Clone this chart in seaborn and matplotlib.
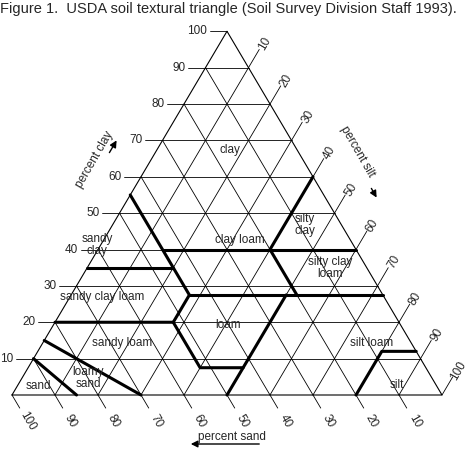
import numpy as np
import pandas as pd
import matplotlib
matplotlib.use("Agg")
import matplotlib.pyplot as plt
import seaborn as sns

sns.set_style("white")
plt.rcParams['font.family'] = ['Liberation Sans', 'DejaVu Sans']

H = np.sqrt(3) / 2
ticks = [10, 20, 30, 40, 50, 60, 70, 80, 90, 100]

# class boundaries as (sand, clay) polylines
boundaries = [
    [(85, 0), (90, 10)],
    [(70, 0), (85, 15)],
    [(80, 20), (52.5, 20), (52.5, 7.5), (42.5, 7.5)],
    [(50, 0), (22.5, 27.5)],
    [(65, 35), (45, 35)],
    [(45, 55), (45, 27.5), (52.5, 20)],
    [(45, 27.5), (0, 27.5)],
    [(45, 40), (0, 40)],
    [(20, 27.5), (20, 40), (0, 60)],
    [(20, 0), (8, 12), (0, 12)],
]

classes = ["clay", "silty\nclay", "sandy\nclay", "clay loam", "silty clay\nloam",
           "sandy clay loam", "loam", "sandy loam", "silt loam", "loamy\nsand", "sand", "silt"]
class_px = [(230, 150), (305, 225), (97, 245), (240, 240), (330, 268), (102, 297),
            (228, 325), (122, 343), (372, 343), (88, 378), (38, 386), (397, 385)]


def xy(sand, clay):
    return 100 - sand - clay / 2, clay * H


def px(p):
    return (p[0] - 12) / 4.3, (395 - p[1]) / 4.2


fig = plt.figure(figsize=(4.74, 4.54), dpi=100)
ax = fig.add_axes([0, 0, 1, 1])
ax.set_xlim(-12 / 4.3, 462 / 4.3)
ax.set_ylim(-59 / 4.2, 395 / 4.2)
ax.axis("off")

# grid lines
for v in range(10, 100, 10):
    ax.plot([v / 2, 100 - v / 2], [v * H, v * H], color="black", lw=0.6)  # clay
    ax.plot([100 - v, xy(v, 100 - v)[0]], [0, xy(v, 100 - v)[1]], color="black", lw=0.6)  # sand
    ax.plot([v, xy(0, 100 - v)[0]], [0, xy(0, 100 - v)[1]], color="black", lw=0.6)  # silt
ax.plot([0, 50, 100, 0], [0, 100 * H, 0, 0], color="black", lw=0.8)

rows = []
for i, seg in enumerate(boundaries):
    for j, (s, c) in enumerate(seg):
        x, y = xy(s, c)
        rows.append({"seg": i, "order": j, "x": x, "y": y})
df = pd.DataFrame(rows)
sns.lineplot(data=df, x="x", y="y", units="seg", estimator=None, sort=False,
             color="black", lw=2.2, ax=ax)

for name, p in zip(classes, class_px):
    ax.text(*px(p), name, ha="center", va="center", fontsize=8.5, linespacing=0.95)

# clay ticks (left)
for v in ticks:
    x0, y0 = v / 2, v * H
    ax.plot([x0, x0 - 4], [y0, y0], color="black", lw=0.6)
    ax.text(x0 - 4.6, y0, str(v), ha="right", va="center", fontsize=8.5)
# sand ticks (bottom)
for v in ticks:
    x0 = 100 - v
    ax.plot([x0, x0 + 1.8], [0, -3.6 * H], color="black", lw=0.6)
    ax.text(x0 + 3.6, -7.2 * H, str(v), ha="center", va="center", rotation=-60, fontsize=8.5)
# silt ticks (right)
for v in ticks:
    x0, y0 = xy(0, 100 - v)
    ax.plot([x0, x0 + 2.5], [y0, y0 + 5 * H], color="black", lw=0.6)
    ax.text(x0 + 3.8, y0 + 6.5 * H, str(v), ha="center", va="center", rotation=60, fontsize=8.5)

ax.text(*px((95, 160)), "percent clay", rotation=60, ha="center", va="center", fontsize=8.5)
ax.annotate("", xy=px((118, 138)), xytext=px((108, 155)),
            arrowprops=dict(arrowstyle="-|>", color="black", lw=1))
ax.text(*px((357, 152)), "percent silt", rotation=-60, ha="center", va="center", fontsize=8.5)
ax.annotate("", xy=px((378, 200)), xytext=px((370, 186)),
            arrowprops=dict(arrowstyle="-|>", color="black", lw=1))
ax.text(*px((232, 437)), "percent sand", ha="center", va="center", fontsize=8.5)
ax.annotate("", xy=px((188, 444)), xytext=px((262, 444)),
            arrowprops=dict(arrowstyle="-|>", color="black", lw=1))

fig.text(0.0, 0.995, "Figure 1.  USDA soil textural triangle (Soil Survey Division Staff 1993).",
         ha="left", va="top", fontsize=10.5)

fig.savefig("out.png", dpi=100)
